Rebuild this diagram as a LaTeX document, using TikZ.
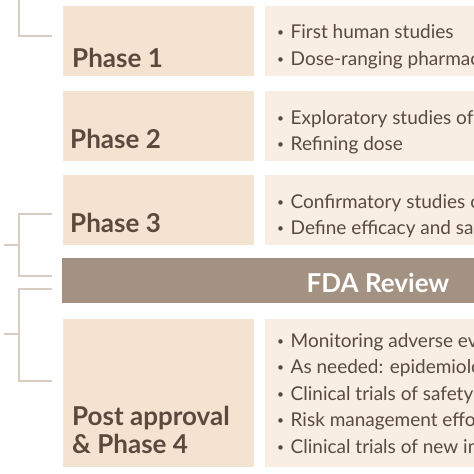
\documentclass[tikz,border=0pt]{standalone}
\usepackage{fontspec}
\setmainfont{Lato}
\definecolor{lboxc}{HTML}{F5E3D1}
\definecolor{rboxc}{HTML}{F8EEE4}
\definecolor{fdac}{HTML}{A39282}
\definecolor{brc}{HTML}{D9CCC1}
\definecolor{txtc}{HTML}{5A4A3E}
\newcommand{\bul}[1]{\makebox[13.5pt][l]{\raisebox{1.2pt}{\fontsize{12}{12}\selectfont •}}#1}
\tikzset{
  lbox/.style={rectangle, fill=lboxc, inner sep=0pt, outer sep=0pt, minimum width=191pt},
  rbox/.style={rectangle, fill=rboxc, inner sep=0pt, outer sep=0pt, minimum width=225pt},
  title/.style={anchor=base west, inner sep=0pt, text=txtc, font=\fontsize{26}{26}\selectfont\bfseries},
  item/.style={anchor=base west, inner sep=0pt, text=txtc, font=\fontsize{19}{19}\selectfont},
  bracket/.style={draw=brc, line width=2.3pt}
}
\begin{document}
\begin{tikzpicture}[x=1pt,y=-1pt]
\useasboundingbox (0,0) rectangle (474,474);
\clip (0,0) rectangle (474,474);
% left boxes
\node[lbox, minimum height=70pt] (p1) at (158.5,41) {};
\node[lbox, minimum height=70pt] (p2) at (158.5,126) {};
\node[lbox, minimum height=70pt] (p3) at (158.5,210) {};
\node[lbox, minimum height=148pt] (p4) at (158.5,393) {};
% right boxes
\node[rbox, minimum height=70pt] (r1) at (377.5,41) {};
\node[rbox, minimum height=70pt] (r2) at (377.5,126) {};
\node[rbox, minimum height=70pt] (r3) at (377.5,210) {};
\node[rbox, minimum height=148pt] (r4) at (377.5,393) {};
% FDA bar
\node[rectangle, fill=fdac, inner sep=0pt, minimum width=428pt, minimum height=45pt] (fda) at (276,280.5) {};
\node[anchor=base, inner sep=0pt, text=white, font=\fontsize{26}{26}\selectfont\bfseries] (fdat) at (378,292) {FDA Review};
% titles
\node[title] (t1) at (72,67) {Phase 1};
\node[title] (t2) at (70,148) {Phase 2};
\node[title] (t3) at (70,232) {Phase 3};
\node[title] (t4a) at (72,425) {Post approval};
\node[title] (t4b) at (72,453) {\& Phase 4};
% items
\node[item] (i11) at (277,38) {\bul{First human studies}};
\node[item] (i12) at (277,65) {\bul{Dose-ranging pharmacokinetics}};
\node[item] (i21) at (277,124) {\bul{Exploratory studies of efficacy}};
\node[item] (i22) at (277,150) {\bul{Refining dose}};
\node[item] (i31) at (277,208) {\bul{Confirmatory studies of efficacy}};
\node[item] (i32) at (277,234) {\bul{Define efficacy and safety}};
\node[item] (i41) at (277,347) {\bul{Monitoring adverse events}};
\node[item] (i42) at (277,373) {\bul{As needed: epidemiological studies}};
\node[item] (i43) at (277,400) {\bul{Clinical trials of safety}};
\node[item] (i44) at (277,426) {\bul{Risk management efforts}};
\node[item] (i45) at (277,453) {\bul{Clinical trials of new indications}};
% brackets
\coordinate (a0) at (19,-2);
\coordinate (a1) at (19,36);
\coordinate (a2) at (52,36);
\draw[bracket] (a0) -- (a1) -- (a2);
\coordinate (b0) at (52,214);
\coordinate (b1) at (19,214);
\coordinate (b2) at (19,276);
\coordinate (b3) at (52,276);
\coordinate (bs0) at (4,245);
\coordinate (bs1) at (19,245);
\draw[bracket] (b0) -- (b1) -- (b2) -- (b3);
\draw[bracket] (bs0) -- (bs1);
\coordinate (c0) at (52,289);
\coordinate (c1) at (19,289);
\coordinate (c2) at (19,381);
\coordinate (c3) at (52,381);
\coordinate (cs0) at (4,334);
\coordinate (cs1) at (19,334);
\draw[bracket] (c0) -- (c1) -- (c2) -- (c3);
\draw[bracket] (cs0) -- (cs1);
\end{tikzpicture}
\end{document}
